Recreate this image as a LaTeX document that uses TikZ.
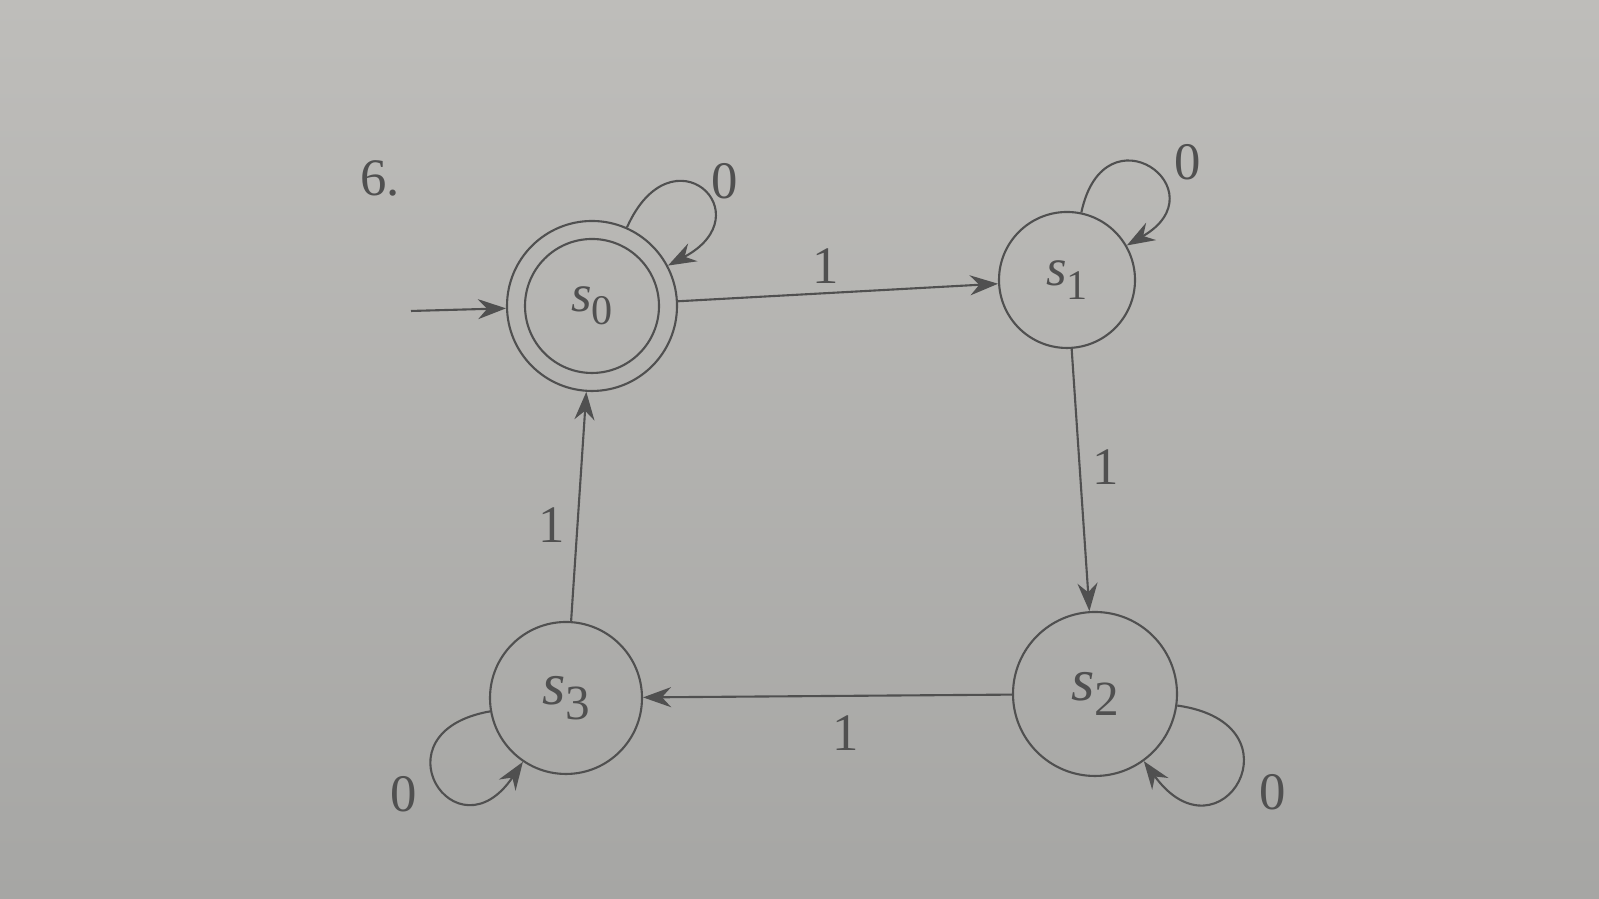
\documentclass[tikz,border=0pt]{standalone}
\usepackage{fontspec}
\setmainfont{Liberation Serif}
\usetikzlibrary{arrows.meta}
\usetikzlibrary{positioning}

\definecolor{paper}{RGB}{190,189,186}
\definecolor{paperdark}{RGB}{166,166,164}
\definecolor{ink}{RGB}{80,80,80}

\newcommand{\sname}[2]{\textit{s}\raisebox{-0.55ex}{\fontsize{#2}{#2}\selectfont #1}}

\begin{document}
\begin{tikzpicture}[
  state/.style={circle, draw=ink, line width=0.6pt, inner sep=0pt, text=ink},
  trans/.style={draw=ink, line width=0.6pt, -{Stealth[length=2.8mm,width=2mm]}},
  lbl/.style={text=ink, font=\fontsize{15}{17}\selectfont}
]
% fondo
\shade[top color=paper, bottom color=paperdark] (0,0) rectangle (15.99,8.99);
\useasboundingbox (0,0) rectangle (15.99,8.99);

% numero del ejercicio
\node[lbl] (num) at (3.80,7.21) {6.};

% estados
\node[state, minimum size=17mm] (s0) at (5.92,5.93) {};
\node[state, minimum size=13.4mm, font=\fontsize{15}{17}\selectfont] (s0in) at (5.92,5.93) {\sname{0}{12}};
\node[state, minimum size=13.6mm, font=\fontsize{15}{17}\selectfont] (s1) at (10.67,6.19) {\sname{1}{12}};
\node[state, minimum size=16.4mm, font=\fontsize{17}{19}\selectfont] (s2) at (10.95,2.05) {\sname{2}{14}};
\node[state, minimum size=15.2mm, font=\fontsize{17}{19}\selectfont] (s3) at (5.66,2.01) {\sname{3}{14}};

% flecha inicial
\coordinate (init) at (4.11,5.88);
\draw[trans] (init) -- (s0);

% transiciones
\draw[trans] (s0) -- node[pos=0.46, above=-1pt, lbl] (e01) {1} (s1);
\draw[trans] (s1) -- node[pos=0.45, right, lbl] (e12) {1} (s2);
\draw[trans] (s2) -- node[pos=0.45, below=2pt, lbl] (e23) {1} (s3);
\draw[trans] (s3) -- node[pos=0.42, left, lbl] (e30) {1} (s0);

% lazos
\draw[trans] (s0) to[out=66, in=28, min distance=11mm] node[pos=0.35, right=5pt, lbl] (l0) {0} (s0);
\draw[trans] (s1) to[out=78, in=30, min distance=11mm] node[pos=0.42, right=7pt, lbl] (l1) {0} (s1);
\draw[trans] (s2) to[out=-8, in=-54, min distance=13mm] node[pos=0.6, right=6pt, lbl] (l2) {0} (s2);
\draw[trans] (s3) to[out=190, in=236, min distance=12mm] node[pos=0.62, left=6pt, lbl] (l3) {0} (s3);

\end{tikzpicture}
\end{document}
